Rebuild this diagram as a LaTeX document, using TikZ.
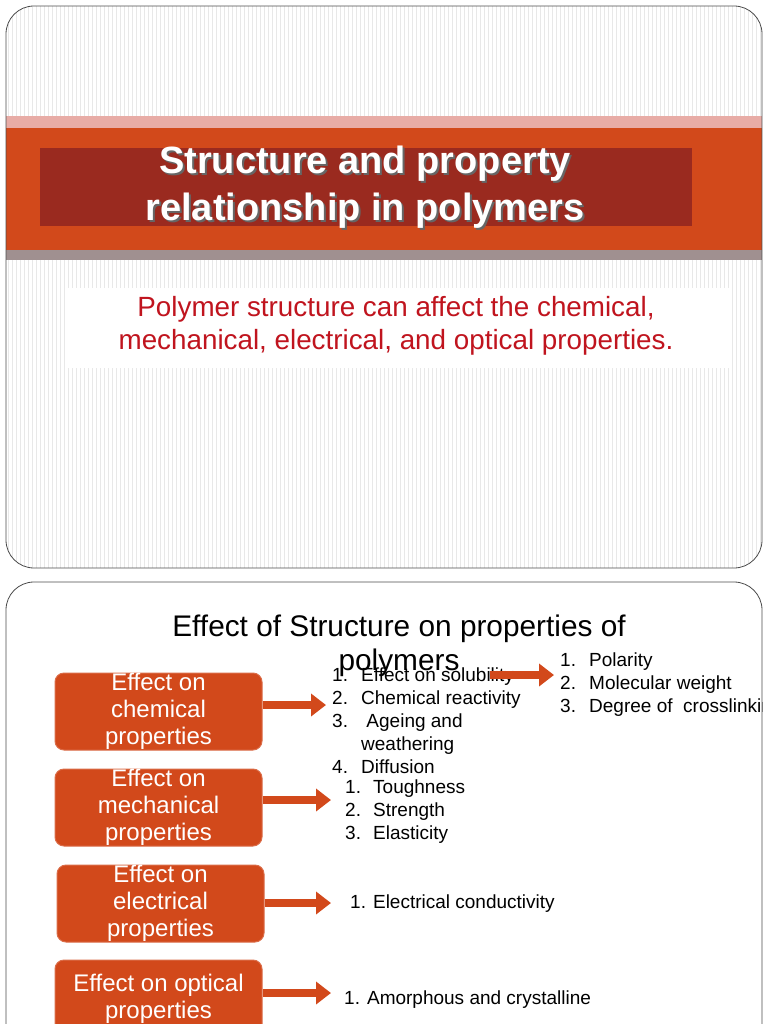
\documentclass[tikz,border=0pt]{standalone}
\usepackage{fontspec}
\setmainfont{Liberation Sans}
\usetikzlibrary{arrows.meta}
\definecolor{org}{HTML}{D2491B}
\definecolor{dred}{HTML}{9A2A1F}
\definecolor{pinkb}{HTML}{E8ACA6}
\definecolor{greyb}{HTML}{A09090}
\definecolor{rtext}{HTML}{C0141E}
\tikzset{
 box/.style={draw=org!80!white,line width=1pt,fill=org,rounded corners=9pt,text=white,align=center,font=\fontsize{24}{27}\selectfont,inner sep=0pt},
 barrow/.style={draw=org,line width=8pt,-{Triangle[width=22pt,length=15pt]}},
 lst/.style={anchor=north west,align=left,font=\fontsize{19}{22.8}\selectfont,inner sep=0pt}
}
\begin{document}
\begin{tikzpicture}[x=1pt,y=-1pt]
\useasboundingbox (0,0) rectangle (768,1024);
% slide 1
\begin{scope}
\clip[rounded corners=28pt] (6,6) rectangle (762,568);
\fill[white] (6,6) rectangle (762,568);
\foreach \x in {8,12,...,760} \draw[black!9,line width=0.6pt] (\x,6) -- (\x,568);
\fill[pinkb] (6,116) rectangle (762,128);
\fill[org] (6,128) rectangle (762,250);
\fill[greyb] (6,250) rectangle (762,260);
\end{scope}
\draw[black!70,line width=0.8pt,rounded corners=28pt] (6,6) rectangle (762,568);
\fill[dred] (40,148) rectangle (692,226);
\node[text=black!60,font=\bfseries\fontsize{38}{47}\selectfont,align=center] at (367,189) {Structure and property\\relationship in polymers};
\node (title) [text=white,font=\bfseries\fontsize{38}{47}\selectfont,align=center] at (365,187) {Structure and property\\relationship in polymers};
\fill[white] (65,288) rectangle (730,368);
\node (sub) [text=rtext,font=\fontsize{27.8}{33}\selectfont,align=center] at (396,326) {Polymer structure can affect the chemical,\\mechanical, electrical, and optical properties.};
% slide 2
\begin{scope}
\clip[rounded corners=28pt] (6,582) rectangle (762,1060);
\fill[white] (6,582) rectangle (762,1060);
\node (h2) [font=\fontsize{29.8}{34}\selectfont,align=center] at (399,646) {Effect of Structure on properties of\\polymers};
\node (b1) [box,minimum width=207pt,minimum height=77pt] at (158.5,711.5) {Effect on\\chemical\\properties};
\node (b2) [box,minimum width=207pt,minimum height=77pt] at (158.5,807.5) {Effect on\\mechanical\\properties};
\node (b3) [box,minimum width=207pt,minimum height=77pt] at (160.5,903.5) {Effect on\\electrical\\properties};
\node (b4) [box,minimum width=207pt,minimum height=77pt] at (158.5,998.5) {Effect on optical\\properties};
\node (l1) [lst] at (332,668) {\makebox[29pt][l]{1.}Effect on solubility\\\makebox[29pt][l]{2.}Chemical reactivity\\\makebox[29pt][l]{3.} Ageing and\\\hspace*{29pt}weathering\\\makebox[29pt][l]{4.}Diffusion};
\node (l2) [lst] at (345,780) {\makebox[28pt][l]{1.}Toughness\\\makebox[28pt][l]{2.}Strength\\\makebox[28pt][l]{3.}Elasticity};
\node (l3) [lst,anchor=west] at (350,904) {1. Electrical conductivity};
\node (l4) [lst,anchor=west] at (344,1000) {1. Amorphous and crystalline};
\node (l5) [lst] at (560,653) {\makebox[29pt][l]{1.}Polarity\\\makebox[29pt][l]{2.}Molecular weight\\\makebox[29pt][l]{3.}Degree of\ \ crosslinking};
\coordinate (a1) at (326,705);
\coordinate (a2) at (331,800);
\coordinate (a3) at (331,903);
\coordinate (a4) at (331,993);
\coordinate (a5s) at (490,675);
\coordinate (a5) at (554,675);
\draw[barrow] (b1.east |- a1) -- (a1);
\draw[barrow] (b2.east |- a2) -- (a2);
\draw[barrow] (b3.east |- a3) -- (a3);
\draw[barrow] (b4.east |- a4) -- (a4);
\draw[barrow] (a5s) -- (a5);
\end{scope}
\draw[black!70,line width=0.8pt,rounded corners=28pt] (6,582) rectangle (762,1060);
\end{tikzpicture}
\end{document}
